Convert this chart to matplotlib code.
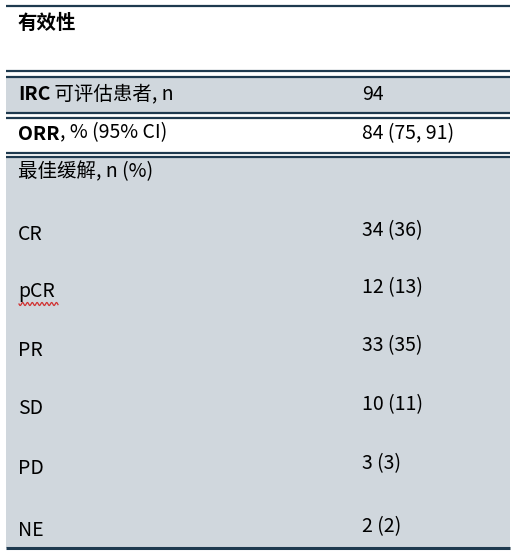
import matplotlib
matplotlib.use("Agg")
import matplotlib.pyplot as plt
import numpy as np

plt.rcParams['font.family'] = ['Noto Sans CJK SC', 'DejaVu Sans']

title = "有效性"
header_bold = ["IRC", "ORR"]
header_rest = [" 可评估患者, n", ", % (95% CI)"]
header_vals = ["94", "84 (75, 91)"]
section_label = "最佳缓解, n (%)"
responses = ["CR", "pCR", "PR", "SD", "PD", "NE"]
response_vals = ["34 (36)", "12 (13)", "33 (35)", "10 (11)", "3 (3)", "2 (2)"]

W, H = 516, 558
grey = "#d0d7dd"
navy = "#1e3a4f"
fs = 14

fig = plt.figure(figsize=(W / 100, H / 100), dpi=100)
ax = fig.add_axes([0, 0, 1, 1])
ax.set_xlim(0, W)
ax.set_ylim(H, 0)
ax.axis("off")

x0, x1 = 6, 510
xl, xr = 18, 362

# shaded blocks
ax.add_patch(plt.Rectangle((x0, 77), x1 - x0, 36, color=grey, lw=0))
ax.add_patch(plt.Rectangle((x0, 156), x1 - x0, 392, color=grey, lw=0))

# rules
for y, lw in [(6, 1.6), (71, 1.6), (77, 1.6), (113, 1.6), (118, 1.6), (153, 1.6), (157, 1.6), (548, 2.2)]:
    ax.plot([x0, x1], [y, y], color=navy, lw=lw, solid_capstyle="butt")

ax.text(xl, 23, title, fontsize=fs, fontweight="bold", va="center")

header_y = [95, 134]
for b, r, v, y in zip(header_bold, header_rest, header_vals, header_y):
    t = ax.text(xl, y, b, fontsize=fs, fontweight="bold", va="center")
    ax.annotate(r, xy=(1, 0), xycoords=t, va="bottom", ha="left", fontsize=fs)
    ax.text(xr, y, v, fontsize=fs, va="center")

ax.text(xl, 172, section_label, fontsize=fs, va="center")

resp_y = [235, 292, 350, 409, 468, 531]
val_y = [y - 4 for y in resp_y]
for lab, v, y, vy in zip(responses, response_vals, resp_y, val_y):
    ax.text(xl, y, lab, fontsize=fs, va="center")
    ax.text(xr, vy, v, fontsize=fs, va="center")

# spellcheck squiggle under pCR
xs = np.linspace(19, 58, 120)
ax.plot(xs, 304 + 1.5 * np.sin((xs - 19) * 1.3), color="#d03030", lw=0.9)

fig.savefig("out.png", dpi=100)
